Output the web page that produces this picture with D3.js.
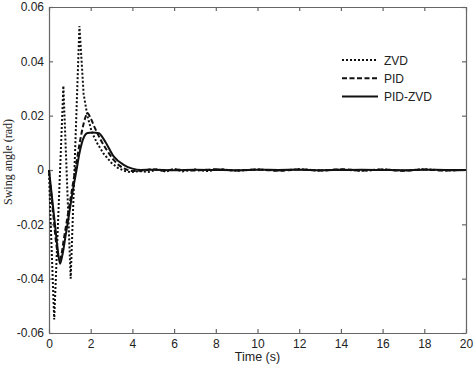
<!DOCTYPE html>
<html>
<head>
<meta charset="utf-8">
<script src="https://cdn.jsdelivr.net/npm/d3@7"></script>
<style>
  body { margin: 0; background: #fff; }
  svg { display: block; }
</style>
</head>
<body>
<div id="chart"></div>
<script>
// Swing angle response: ZVD, PID and PID-ZVD controllers

var xTicks = [0, 2, 4, 6, 8, 10, 12, 14, 16, 18, 20];
var yTicks = [-0.06, -0.04, -0.02, 0, 0.02, 0.04, 0.06];
var yTickLabels = ["-0.06", "-0.04", "-0.02", "0", "0.02", "0.04", "0.06"];

var seriesNames = ["ZVD", "PID", "PID-ZVD"];

// ZVD (dotted)
var zvdTime  = [0, 0.06, 0.25, 0.69, 1.04, 1.46, 1.66, 1.84, 2.05, 2.3, 2.6, 3.0, 3.3, 3.6,
                3.9, 4.3, 4.8, 5.2, 5.6, 6.0, 6.4, 7.0, 7.6, 8.2, 9.0, 10, 11, 12, 13, 14,
                15, 16, 17, 18, 19, 20];
var zvdAngle = [0, -0.015, -0.055, 0.031, -0.040, 0.053, 0.028, 0.020, 0.014, 0.0100, 0.0062, 0.0026, 0.0008, -0.0003,
                -0.0008, -0.0004, -0.0007, 0.0003, -0.0006, 0.0004, -0.0005, 0.0002, -0.0004, 0.0003, -0.0003, 0.0002, -0.0002, 0.0003, -0.0002, 0.0002,
                -0.0003, 0.0002, -0.0002, 0.0003, -0.0002, 0];

// PID (dashed)
var pidTime  = [0, 0.1, 0.2, 0.3, 0.4, 0.5, 0.6, 0.7, 0.85, 1.0, 1.15, 1.3, 1.45, 1.6, 1.75, 1.84,
                2.0, 2.2, 2.45, 2.8, 3.1, 3.4, 3.65, 4.0, 4.5, 5, 5.5, 6, 7, 8, 9, 10, 11, 12,
                13, 14, 15, 16, 17, 18, 19, 20];
var pidAngle = [0, -0.008, -0.016, -0.024, -0.030, -0.033, -0.031, -0.026, -0.019, -0.012, -0.005, 0.002, 0.009, 0.015, 0.0195, 0.021,
                0.019, 0.0155, 0.0115, 0.007, 0.0037, 0.0015, 0.0004, -0.0004, -0.0002, 0.0003, -0.0003, 0.0002, -0.0002, 0.0003, -0.0002, 0.0002, -0.0003, 0.0002,
                -0.0002, 0.0003, -0.0002, 0.0002, -0.0003, 0.0002, -0.0002, 0];

// PID-ZVD (solid)
var pidzvdTime  = [0, 0.1, 0.2, 0.3, 0.4, 0.53, 0.65, 0.8, 0.95, 1.1, 1.2, 1.32, 1.45, 1.57, 1.7, 1.85,
                   2.1, 2.4, 2.55, 2.7, 3.1, 3.6, 4.0, 4.4, 5, 6, 7, 8, 9, 10, 11, 12, 13, 14,
                   15, 16, 17, 18, 19, 20];
var pidzvdAngle = [0, -0.007, -0.014, -0.021, -0.028, -0.0345, -0.031, -0.024, -0.017, -0.0095, -0.005, 0, 0.0058, 0.0098, 0.0125, 0.0136,
                   0.0138, 0.0135, 0.0122, 0.0104, 0.005, 0.0018, 0.0005, 0, 0.0001, -0.0001, 0.0001, 0, -0.0001, 0.0001, 0, 0.0001, -0.0001, 0,
                   0.0001, 0, -0.0001, 0.0001, 0, 0];

var margin = { top: 7, right: 8, bottom: 33, left: 49 };
var width = 474 - margin.left - margin.right;
var height = 366 - margin.top - margin.bottom;

var svg = d3.select("#chart").append("svg")
    .attr("width", 474)
    .attr("height", 366);

var g = svg.append("g")
    .attr("transform", "translate(" + margin.left + "," + margin.top + ")");

var xScale = d3.scaleLinear().domain([0, 20]).range([0, width]);
var yScale = d3.scaleLinear().domain([-0.06, 0.06]).range([height, 0]);

var axisColor = "#666";
var labelFont = "Liberation Sans, Arial, sans-serif";

function styleAxis(sel) {
    sel.selectAll("path.domain").attr("stroke", axisColor).attr("stroke-width", 1.2);
    sel.selectAll(".tick line").attr("stroke", axisColor).attr("stroke-width", 1.2);
    sel.selectAll(".tick text")
        .attr("fill", "#222")
        .style("font-family", labelFont)
        .style("font-size", "12px");
}

var xAxis = d3.axisBottom(xScale).tickValues(xTicks).tickSizeInner(-4).tickSizeOuter(0)
    .tickPadding(6).tickFormat(d3.format("d"));
var xAxisTop = d3.axisTop(xScale).tickValues(xTicks).tickSizeInner(-4).tickSizeOuter(0)
    .tickFormat("");
var yAxis = d3.axisLeft(yScale).tickValues(yTicks).tickSizeInner(-4).tickSizeOuter(0)
    .tickPadding(5).tickFormat(function(d, i) { return yTickLabels[i]; });
var yAxisRight = d3.axisRight(yScale).tickValues(yTicks).tickSizeInner(-4).tickSizeOuter(0)
    .tickFormat("");

g.append("g").attr("transform", "translate(0," + height + ")").call(xAxis).call(styleAxis);
g.append("g").call(xAxisTop).call(styleAxis);
g.append("g").call(yAxis).call(styleAxis);
g.append("g").attr("transform", "translate(" + width + ",0)").call(yAxisRight).call(styleAxis);

// axis titles
g.append("text")
    .attr("x", width / 2)
    .attr("y", height + 28)
    .attr("text-anchor", "middle")
    .attr("fill", "#222")
    .style("font-family", labelFont)
    .style("font-size", "12.5px")
    .text("Time (s)");

svg.append("text")
    .attr("transform", "translate(12," + 162 + ") rotate(-90)")
    .attr("text-anchor", "middle")
    .attr("fill", "#222")
    .style("font-family", "Liberation Serif, Times New Roman, serif")
    .style("font-size", "12px")
    .text("Swing angle (rad)");

// curves
var styles = [
    { dash: "2,2", width: 2 },
    { dash: "5,2.5", width: 2 },
    { dash: null, width: 2 }
];

var seriesData = [
    { time: zvdTime, angle: zvdAngle, curve: d3.curveLinear },
    { time: pidTime, angle: pidAngle, curve: d3.curveMonotoneX },
    { time: pidzvdTime, angle: pidzvdAngle, curve: d3.curveMonotoneX }
];

seriesData.forEach(function(s, i) {
    var pts = s.time.map(function(t, j) { return [t, s.angle[j]]; });
    var line = d3.line()
        .curve(s.curve)
        .x(function(d) { return xScale(d[0]); })
        .y(function(d) { return yScale(d[1]); });
    g.append("path")
        .datum(pts)
        .attr("fill", "none")
        .attr("stroke", "#111")
        .attr("stroke-width", styles[i].width)
        .attr("stroke-dasharray", styles[i].dash)
        .attr("d", line);
});

// legend
var legend = g.append("g")
    .attr("transform", "translate(" + (342 - margin.left) + "," + (60 - margin.top) + ")");

seriesNames.forEach(function(name, i) {
    var row = legend.append("g").attr("transform", "translate(0," + (i * 18.3) + ")");
    row.append("line")
        .attr("x1", 0).attr("x2", 36)
        .attr("y1", 0).attr("y2", 0)
        .attr("stroke", "#111")
        .attr("stroke-width", 2)
        .attr("stroke-dasharray", styles[i].dash);
    row.append("text")
        .attr("x", 42)
        .attr("y", 4.5)
        .attr("fill", "#222")
        .style("font-family", labelFont)
        .style("font-size", "12px")
        .text(name);
});
</script>
</body>
</html>
